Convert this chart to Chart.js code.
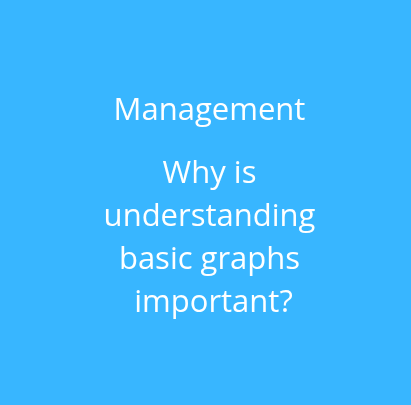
<!DOCTYPE html>
<html>
<head>
<meta charset="utf-8">
<script src="https://cdn.jsdelivr.net/npm/chart.js@4"></script>
<style>
	html, body { margin: 0; padding: 0; background: #38b6ff; }
	#wrap { width: 411px; height: 405px; }
</style>
</head>
<body>
<div id="wrap"><canvas id="card"></canvas></div>
<script>
	// Text of the card (no plotted series in the reference)
	const headingLines = ["Management"];
	const questionLines = ["Why is", "understanding", "basic graphs", " important?"];
	const categories = [];
	const values = [];

	const textColor = "#ffffff";
	const fontFamily = "'Open Sans', 'Noto Sans', sans-serif";

	const ctx = document.getElementById("card").getContext("2d");

	new Chart(ctx, {
		type: "bar",
		data: {
			labels: categories,
			datasets: [
				{
					label: "",
					data: values,
				},
			],
		},
		options: {
			responsive: true,
			maintainAspectRatio: false,
			animation: false,
			layout: { padding: { left: 8 } },
			scales: {
				x: { display: false },
				y: { display: false },
			},
			plugins: {
				legend: { display: false },
				tooltip: { enabled: false },
				title: {
					display: true,
					text: headingLines,
					color: textColor,
					font: { family: fontFamily, size: 31, weight: "normal", lineHeight: 1.2 },
					padding: { top: 93, bottom: 22 },
				},
				subtitle: {
					display: true,
					text: questionLines,
					color: textColor,
					font: { family: fontFamily, size: 31, weight: "normal", lineHeight: 1.387 },
					padding: { top: 0, bottom: 0 },
				},
			},
		},
	});
</script>
</body>
</html>
